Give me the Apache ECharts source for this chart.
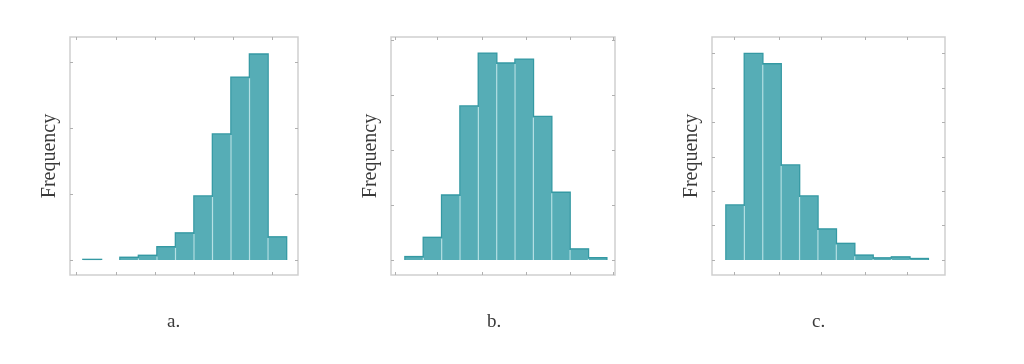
<!DOCTYPE html>
<html>
<head>
<meta charset="utf-8">
<script src="https://cdn.jsdelivr.net/npm/echarts@6/dist/echarts.min.js"></script>
<style>
html,body{margin:0;padding:0;background:#fff;}
#c{width:1024px;height:364px;}
</style>
</head>
<body>
<div id="c"></div>
<script>
// ---- data (frequencies per bin, 11 bins per panel) ----
const panelLabels = ['a.', 'b.', 'c.'];
const yName = 'Frequency';
const freqA = [0.8, 0, 4, 7, 20, 41, 97, 191, 277, 312, 35];
const freqB = [6, 41, 118, 280, 376, 358, 365, 261, 123, 20, 4];
const freqC = [80, 300, 285, 138, 93, 45, 24, 7, 3, 4.4, 2];
// tick positions (in bin units for x, frequency units for y); axes carry no labels
const xTicksA = [-0.34, 1.82, 3.89, 6.0, 8.11, 10.22];
const xTicksB = [-0.55, 1.78, 4.21, 6.63, 8.99, 11.35];
const xTicksC = [0.45, 2.88, 5.2, 7.56, 9.88];
const yTicksA = [0, 100, 200, 300];
const yTicksB = [0, 100, 200, 300, 400];
const yTicksC = [0, 50, 100, 150, 200, 250, 300];

// ---- layout/style ----
const panels = [
  {freq: freqA, xt: xTicksA, yt: yTicksA, x: [-0.70, 11.62], y: [-22.7, 338], grid: {left: 70, top: 37, width: 228, height: 238}, lx: 175},
  {freq: freqB, xt: xTicksB, yt: yTicksB, x: [-0.763, 11.45], y: [-27.3, 405.5], grid: {left: 391, top: 37, width: 224, height: 238}, lx: 495},
  {freq: freqC, xt: xTicksC, yt: yTicksC, x: [-0.76, 11.91], y: [-21.8, 324], grid: {left: 712, top: 37, width: 233, height: 238}, lx: 820}
];
const FILL = '#56adb6';
const EDGE = '#3499a3';
const DIV = 'rgba(205,236,239,0.85)';
const TICK = '#b0b0b0';
const FONT = '"Liberation Serif", "DejaVu Serif", serif';

const grids = [], xAxes = [], yAxes = [], series = [], graphics = [];

function tickAxis(extra) {
  return Object.assign({
    axisLine: {show: false, onZero: false},
    axisLabel: {show: false},
    splitLine: {show: false}
  }, extra);
}

panels.forEach((p, k) => {
  grids.push(Object.assign({show: true, borderColor: '#cfcfcf', borderWidth: 1.5, backgroundColor: '#fff'}, p.grid));
  const tickX = {show: true, inside: true, length: 3, lineStyle: {color: TICK, width: 1}, customValues: p.xt};
  const tickY = {show: true, inside: true, length: 3, lineStyle: {color: TICK, width: 1}, customValues: p.yt};
  // bottom & top x axes
  xAxes.push(tickAxis({type: 'value', gridIndex: k, position: 'bottom', min: p.x[0], max: p.x[1], axisTick: tickX}));
  xAxes.push(tickAxis({type: 'value', gridIndex: k, position: 'top', min: p.x[0], max: p.x[1], axisTick: tickX}));
  // left & right y axes
  yAxes.push(tickAxis({type: 'value', gridIndex: k, position: 'left', min: p.y[0], max: p.y[1], axisTick: tickY,
    name: yName, nameLocation: 'middle', nameGap: 10, nameRotate: 90,
    nameTextStyle: {fontFamily: FONT, fontSize: 20, color: '#3a3a3a'}}));
  yAxes.push(tickAxis({type: 'value', gridIndex: k, position: 'right', min: p.y[0], max: p.y[1], axisTick: tickY}));

  const data = p.freq.map((v, i) => [i, v, i > 0 ? p.freq[i - 1] : 0]);
  // outline silhouette
  series.push({
    type: 'custom', xAxisIndex: 2 * k, yAxisIndex: 2 * k, silent: true, clip: true,
    data: data,
    renderItem: function (params, api) {
      const i = api.value(0), h = api.value(1);
      if (!(h > 0)) return null;
      const a = api.coord([i, 0]), b = api.coord([i + 1, h]);
      return {type: 'rect', shape: {x: a[0] - 0.8, y: b[1] - 0.8, width: b[0] - a[0] + 1.6, height: a[1] - b[1] + 0.8},
        style: {fill: EDGE}};
    }
  });
  // bars with light dividers
  series.push({
    type: 'custom', xAxisIndex: 2 * k, yAxisIndex: 2 * k, silent: true, clip: true,
    data: data,
    renderItem: function (params, api) {
      const i = api.value(0), h = api.value(1), prev = api.value(2);
      if (!(h > 0)) return null;
      const a = api.coord([i, 0]), b = api.coord([i + 1, h]);
      const children = [{type: 'rect', shape: {x: a[0] + 0.4, y: b[1] + 0.6, width: b[0] - a[0] - 0.8, height: a[1] - b[1] - 0.6},
        style: {fill: FILL}}];
      const m = Math.min(h, prev);
      if (m > 0) {
        const t = api.coord([i, m]);
        children.push({type: 'line', shape: {x1: a[0], y1: a[1], x2: a[0], y2: t[1] + 1},
          style: {stroke: DIV, lineWidth: 1.2}});
      }
      return {type: 'group', children: children};
    }
  });
  graphics.push({type: 'text', left: p.lx - 8, top: 313,
    style: {text: panelLabels[k], font: '19px ' + FONT, fill: '#3a3a3a'}});
});

const chart = echarts.init(document.getElementById('c'), null, {renderer: 'canvas'});
chart.setOption({
  animation: false,
  backgroundColor: '#fff',
  grid: grids,
  xAxis: xAxes,
  yAxis: yAxes,
  series: series,
  graphic: graphics
});
</script>
</body>
</html>
